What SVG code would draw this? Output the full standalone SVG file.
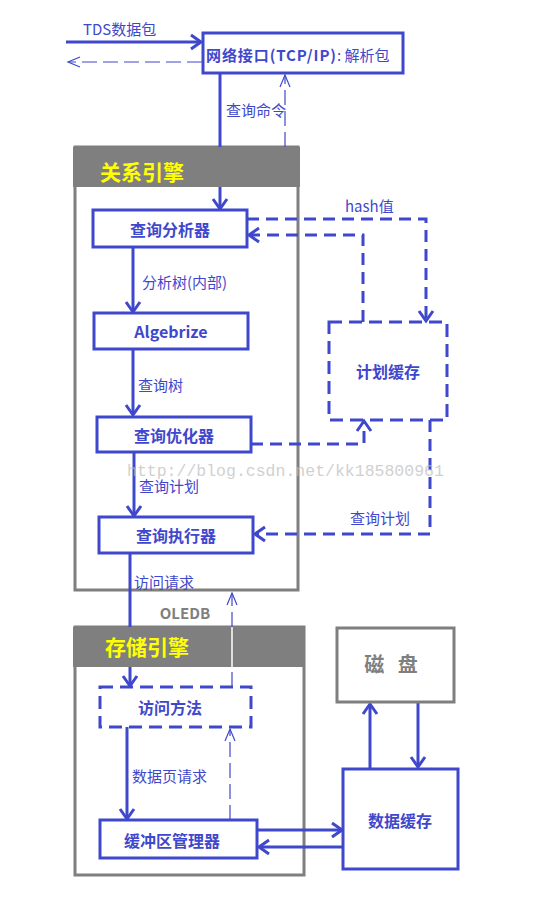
<svg xmlns="http://www.w3.org/2000/svg" width="554" height="920" viewBox="0 0 554 920">
<defs>
<style>
.node{fill:#fff;stroke:#3f48cc;stroke-width:3}
.dnode{fill:none;stroke:#3f48cc;stroke-width:3;stroke-dasharray:13 7}
.nt{font-family:"Noto Sans CJK SC","Noto Sans",sans-serif;font-size:16px;font-weight:bold;fill:#3f48cc;text-anchor:middle;dominant-baseline:central}
.lbl{font-family:"Noto Sans CJK SC","Noto Sans",sans-serif;font-size:15px;fill:#3f48cc;dominant-baseline:central}
.c{fill:none;stroke:#3f48cc;stroke-width:3}
.cd{fill:none;stroke:#3f48cc;stroke-width:3;stroke-dasharray:12 7}
.ct{fill:none;stroke:#3f48cc;stroke-width:1.2;stroke-dasharray:15 6}
.box{fill:none;stroke:#7f7f7f;stroke-width:3}
.hdr{fill:#7f7f7f}
.title{font-family:"Noto Sans CJK SC",sans-serif;font-size:21px;font-weight:bold;fill:#ffff00;dominant-baseline:central}
.gt{font-family:"Noto Sans CJK SC","Noto Sans",sans-serif;font-weight:bold;fill:#7f7f7f;text-anchor:middle;dominant-baseline:central}
</style>
<marker id="a" markerUnits="userSpaceOnUse" markerWidth="24" markerHeight="24" viewBox="-12 -12 24 24" refX="0" refY="0" orient="auto" overflow="visible"><path d="M-10,-7 L0,0 L-10,7" fill="none" stroke="#3f48cc" stroke-width="3"/></marker>
<marker id="t" markerUnits="userSpaceOnUse" markerWidth="24" markerHeight="24" viewBox="-12 -12 24 24" refX="0" refY="0" orient="auto" overflow="visible"><path d="M-12,-5 L0,0 L-12,5" fill="none" stroke="#3f48cc" stroke-width="1.2"/></marker>
</defs>
<rect width="554" height="920" fill="#fff"/>

<g id="relational-engine">
<rect class="box" x="75" y="147" width="223" height="443"/>
<rect class="hdr" x="73" y="147" width="227" height="40"/>
<text class="title" x="100" y="171">关系引擎</text>
</g>
<g id="storage-engine">
<rect class="box" x="75" y="627" width="229" height="248"/>
<rect class="hdr" x="73" y="627" width="232" height="40"/>
<line x1="232" y1="627" x2="232" y2="667" stroke="#fff" stroke-width="1.5"/>
<text class="title" x="105" y="646">存储引擎</text>
</g>

<g id="connectors">
<path class="c" d="M66,42 H201" marker-end="url(#a)"/>
<text class="lbl" x="83" y="28">TDS数据包</text>
<path class="ct" d="M202,62 H68" stroke-dasharray="20 10" marker-end="url(#t)"/>
<path class="c" d="M220,73 V147 M220,187 V209" marker-end="url(#a)"/>
<text class="lbl" x="226" y="109">查询命令</text>
<path class="ct" d="M285,147 V75" marker-end="url(#t)"/>
<path class="c" d="M133,247 V312" marker-end="url(#a)"/>
<text class="lbl" x="142" y="281">分析树(内部)</text>
<path class="c" d="M133,349 V415" marker-end="url(#a)"/>
<text class="lbl" x="138" y="384">查询树</text>
<path class="c" d="M134,452 V516" marker-end="url(#a)"/>
<text class="lbl" x="139" y="485">查询计划</text>
<path class="cd" d="M247,219 H426 V321" marker-end="url(#a)"/>
<text class="lbl" x="345" y="205">hash值</text>
<path class="cd" d="M363,322 V235 H249" marker-end="url(#a)"/>
<path class="cd" d="M251,444 H364 V421" marker-end="url(#a)"/>
<path class="cd" d="M430,420 V534 H255" marker-end="url(#a)"/>
<text class="lbl" x="350" y="517">查询计划</text>
<path class="c" d="M130,553 V627 M130,667 V686" marker-end="url(#a)"/>
<text class="lbl" x="134" y="581">访问请求</text>
<text class="gt" x="185" y="612" font-size="15">OLEDB</text>
<path class="ct" d="M232,687 V667 M232,627 V593" marker-end="url(#t)"/>
<path class="c" d="M127,727 V819" marker-end="url(#a)"/>
<text class="lbl" x="132" y="775">数据页请求</text>
<path class="ct" d="M230,820 V729" marker-end="url(#t)"/>
<path class="c" d="M257,830 H342" marker-end="url(#a)"/>
<path class="c" d="M343,847 H259" marker-end="url(#a)"/>
<path class="c" d="M370,769 V704" marker-end="url(#a)"/>
<path class="c" d="M418,702 V767" marker-end="url(#a)"/>
</g>

<g id="network-interface">
<rect class="node" x="203" y="33" width="200" height="40"/>
<text class="lbl" x="206" y="54" font-size="16"><tspan font-weight="bold" textLength="130" lengthAdjust="spacing">网络接口(TCP/IP)</tspan><tspan x="337">: 解析包</tspan></text>
</g>
<g id="query-parser">
<rect class="node" x="93" y="210" width="154" height="37"/>
<text class="nt" x="170" y="228.5">查询分析器</text>
</g>
<g id="algebrize">
<rect class="node" x="94" y="313" width="154" height="36"/>
<text class="nt" x="171" y="331">Algebrize</text>
</g>
<g id="query-optimizer">
<rect class="node" x="97" y="417" width="154" height="35"/>
<text class="nt" x="174" y="435">查询优化器</text>
</g>
<g id="query-executor">
<rect class="node" x="99" y="517" width="154" height="36"/>
<text class="nt" x="176" y="535">查询执行器</text>
</g>
<g id="plan-cache">
<rect class="dnode" x="329" y="322" width="118" height="98"/>
<text class="nt" x="388" y="371">计划缓存</text>
</g>
<g id="access-methods">
<rect class="dnode" x="100" y="687" width="151" height="40"/>
<text class="nt" x="170" y="707">访问方法</text>
</g>
<g id="buffer-manager">
<rect class="node" x="100" y="820" width="157" height="38"/>
<text class="nt" x="172" y="840">缓冲区管理器</text>
</g>
<g id="data-cache">
<rect class="node" x="343" y="769" width="115" height="100"/>
<text class="nt" x="400" y="820">数据缓存</text>
</g>
<g id="disk">
<rect x="337" y="628" width="117" height="74" fill="#fff" stroke="#7f7f7f" stroke-width="3"/>
<text class="gt" x="391" y="663" font-size="20" word-spacing="9">磁 盘</text>
</g>

<g id="watermark">
<text x="127" y="476" font-family="Liberation Mono, monospace" font-size="16.5" fill="#bdbdbd" opacity="0.7">http://blog.csdn.net/kk185800961</text>
</g>
</svg>
